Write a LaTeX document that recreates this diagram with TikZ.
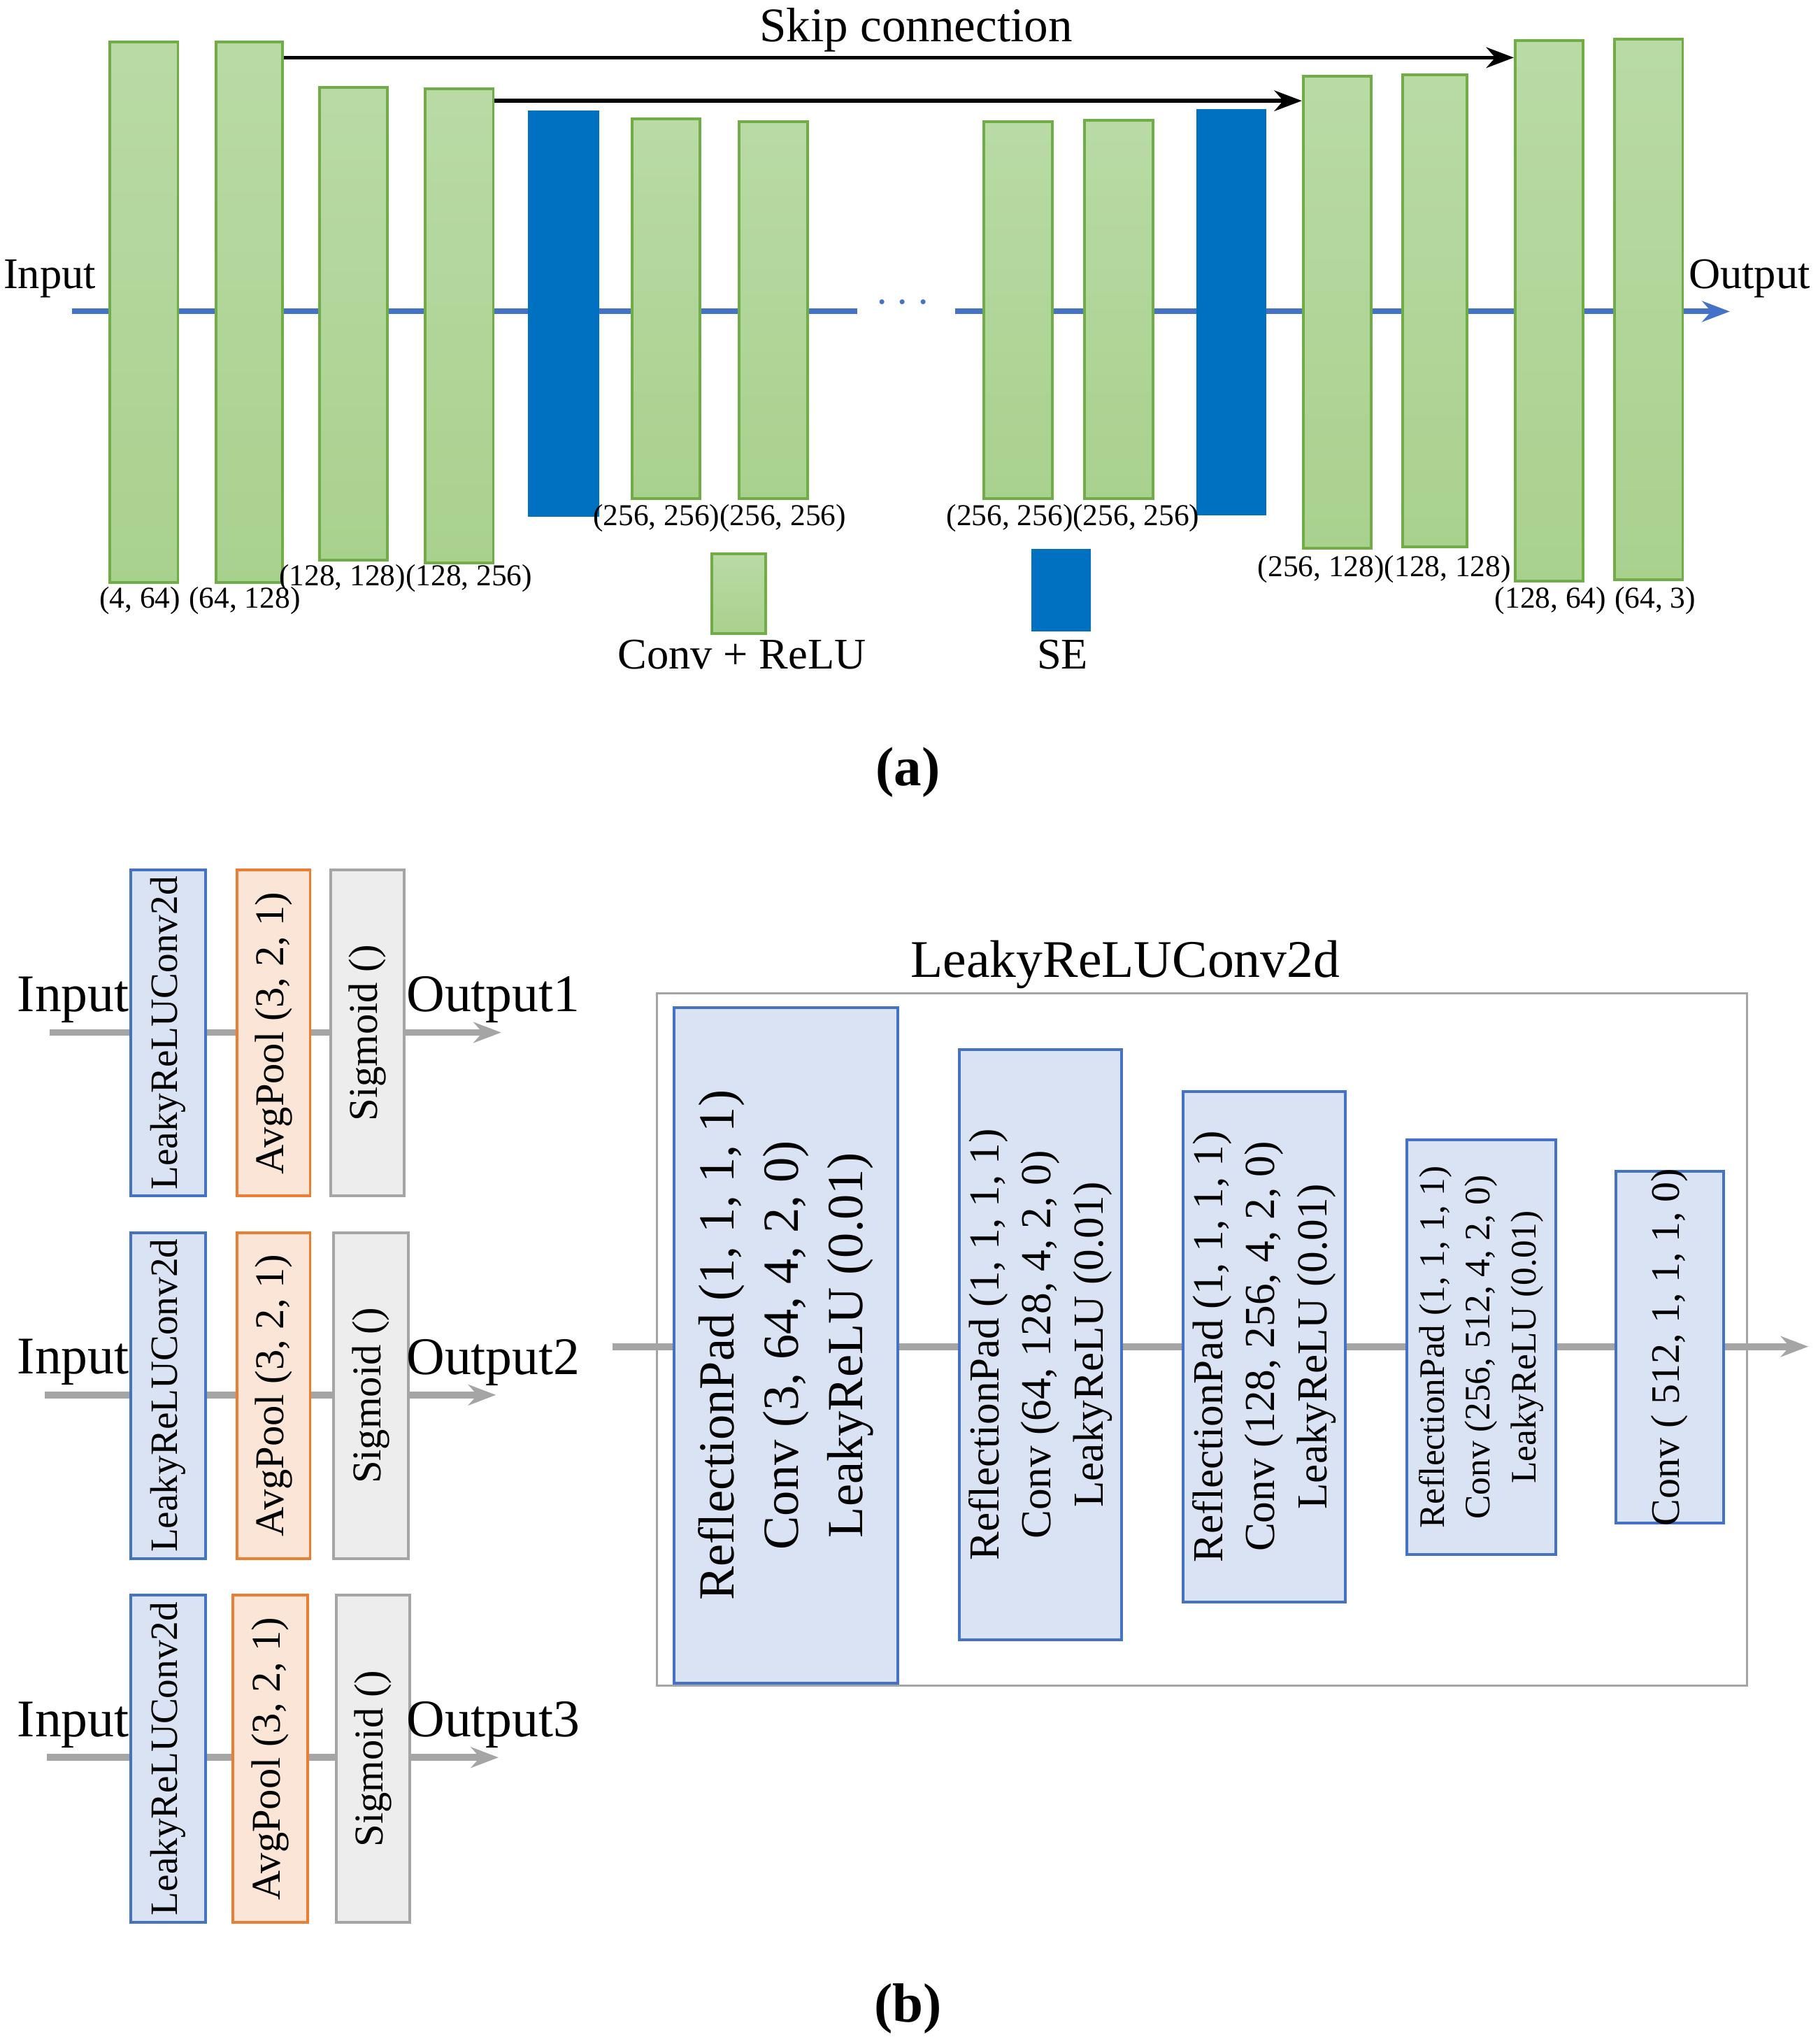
\documentclass[tikz,border=0pt]{standalone}
\usepackage{fontspec}
\setmainfont{Liberation Serif}
\usetikzlibrary{fit,arrows.meta}
\definecolor{gfill}{HTML}{A9D18E}
\definecolor{gtop}{HTML}{B9DAA5}
\definecolor{gedge}{HTML}{70AD47}
\definecolor{seblue}{HTML}{0070C0}
\definecolor{lblue}{HTML}{4472C4}
\definecolor{bfill}{HTML}{DAE3F3}
\definecolor{ofill}{HTML}{FBE5D6}
\definecolor{oedge}{HTML}{ED7D31}
\definecolor{gyfill}{HTML}{EDEDED}
\definecolor{gyedge}{HTML}{A5A5A5}
\tikzset{
 gbar/.style={draw=gedge,top color=gtop,bottom color=gfill,inner sep=0pt,line width=0.6pt},
 sebar/.style={draw=seblue,fill=seblue,inner sep=0pt},
 bbox/.style={draw=lblue,fill=bfill,inner sep=0pt,line width=0.6pt},
 obox/.style={draw=oedge,fill=ofill,inner sep=0pt,line width=0.6pt},
 gybox/.style={draw=gyedge,fill=gyfill,inner sep=0pt,line width=0.6pt},
 lbl/.style={font=\fontsize{6.6}{8}\selectfont,inner sep=1pt},
 rtxt/.style={rotate=90,align=center},
 gline/.style={draw=gyedge,line width=1.5pt,-{Stealth[length=6pt]}},
}
\begin{document}
\begin{tikzpicture}[x=0.01cm,y=-0.01cm]
\useasboundingbox (0,0) rectangle (1389,1562);
% (a)
\coordinate (ain) at (55,238); \coordinate (aout) at (1322,238);
\coordinate (g1) at (655,238); \coordinate (g2) at (730,238);
\draw[lblue,line width=1.2pt] (ain) -- (g1);
\draw[lblue,line width=1.2pt,-{Stealth[length=6pt]}] (g2) -- (aout);
\node[lblue] at (690,232) {\textbf{$\cdots$}};
\foreach \n/\a/\b/\c/\d in {b1/84/32/136/445,b2/165/32/216/445,b3/244/67/296/428,b4/325/68/377/430,b5/483/91/535/381,b6/565/93/617/381,b7/752/93/804/381,b8/829/92/881/381,b9/996/58/1048/419,b10/1072/57/1121/418,b11/1158/31/1210/444,b12/1234/30/1286/443}
 {\node[gbar,fit={(\a,\b)(\c,\d)}] (\n) {};}
\node[sebar,fit={(404,85)(457,394)}] (s1) {};
\node[sebar,fit={(915,84)(967,393)}] (s2) {};
\draw[-{Stealth[length=6pt]},line width=0.8pt] (b2.north east |- 0,44) -- (b11.north west |- 0,44);
\draw[-{Stealth[length=6pt]},line width=0.8pt] (b4.north east |- 0,77) -- (b9.north west |- 0,77);
\node[font=\fontsize{10.5}{12}\selectfont] at (700,23) {Skip connection};
\node[font=\fontsize{9.5}{11}\selectfont] at (38,213) {Input};
\node[font=\fontsize{9.5}{11}\selectfont] at (1337,213) {Output};
\node[lbl] at (107,459) {(4, 64)};
\node[lbl] at (187,459) {(64, 128)};
\node[lbl] at (310,442) {(128, 128)(128, 256)};
\node[lbl] at (550,396) {(256, 256)(256, 256)};
\node[lbl] at (820,396) {(256, 256)(256, 256)};
\node[lbl] at (1058,435) {(256, 128)(128, 128)};
\node[lbl] at (1185,459) {(128, 64)};
\node[lbl] at (1265,459) {(64, 3)};
\node[gbar,fit={(544,423)(585,484)}] (lg) {};
\node[font=\fontsize{9.5}{11}\selectfont] at (567,500) {Conv + ReLU};
\node[sebar,fit={(789,420)(833,482)}] (ls) {};
\node[font=\fontsize{9.5}{11}\selectfont] at (812,500) {SE};
\node[font=\fontsize{12}{14}\selectfont\bfseries] at (694,590) {(a)};
% (b) rows
\foreach \r/\yt/\yb/\ya/\xs/\xe/\gx/\gxe/\oxs/\oxe in {1/665/914/789/38/383/253/309/181/237,2/942/1191/1066/34/379/255/312/181/237,3/1219/1469/1343/36/381/257/313/178/235}{
 \coordinate (i\r) at (\xs,\ya); \coordinate (o\r) at (\xe,\ya);
 \draw[gline] (i\r) -- (o\r);
 \node[bbox,fit={(100,\yt)(157,\yb)}] (lr\r) {};
 \node[rtxt,font=\fontsize{8.4}{10}\selectfont] at (lr\r) {LeakyReLUConv2d};
 \node[obox,fit={(\oxs,\yt)(\oxe,\yb)}] (ap\r) {};
 \node[rtxt,font=\fontsize{8.9}{10}\selectfont] at (ap\r) {AvgPool (3, 2, 1)};
 \node[gybox,fit={(\gx,\yt)(\gxe,\yb)}] (sg\r) {};
 \node[rtxt,font=\fontsize{8.9}{10}\selectfont] at (sg\r) {Sigmoid ()};
 \node[font=\fontsize{11.5}{13}\selectfont] at (56,\ya-25) {Input};
 \node[font=\fontsize{11.5}{13}\selectfont] at (377,\ya-25) {Output\r};
}
% big box
\node[draw=gyedge,inner sep=0pt,fit={(502,759)(1335,1288)}] (big) {};
\node[font=\fontsize{11.5}{13}\selectfont] at (860,737) {LeakyReLUConv2d};
\coordinate (bi) at (468,1029); \coordinate (bo) at (1382,1029);
\draw[gline] (bi) -- (bo);
\node[bbox,fit={(515,770)(686,1286)}] (k1) {};
\node[rtxt,font=\fontsize{11}{14}\selectfont] at (k1) {ReflectionPad (1, 1, 1, 1)\\Conv (3, 64, 4, 2, 0)\\LeakyReLU (0.01)};
\node[bbox,fit={(733,802)(857,1253)}] (k2) {};
\node[rtxt,font=\fontsize{9.3}{11.3}\selectfont] at (k2) {ReflectionPad (1, 1, 1, 1)\\Conv (64, 128, 4, 2, 0)\\LeakyReLU (0.01)};
\node[bbox,fit={(904,834)(1028,1224)}] (k3) {};
\node[rtxt,font=\fontsize{9.3}{11.3}\selectfont] at (k3) {ReflectionPad (1, 1, 1, 1)\\Conv (128, 256, 4, 2, 0)\\LeakyReLU (0.01)};
\node[bbox,fit={(1075,871)(1189,1188)}] (k4) {};
\node[rtxt,font=\fontsize{7.8}{10}\selectfont] at (k4) {ReflectionPad (1, 1, 1, 1)\\Conv (256, 512, 4, 2, 0)\\LeakyReLU (0.01)};
\node[bbox,fit={(1235,895)(1317,1164)}] (k5) {};
\node[rtxt,font=\fontsize{8.8}{10}\selectfont] at (k5) {Conv ( 512, 1, 1, 1, 0)};
\node[font=\fontsize{12}{14}\selectfont\bfseries] at (694,1535) {(b)};
\end{tikzpicture}
\end{document}
